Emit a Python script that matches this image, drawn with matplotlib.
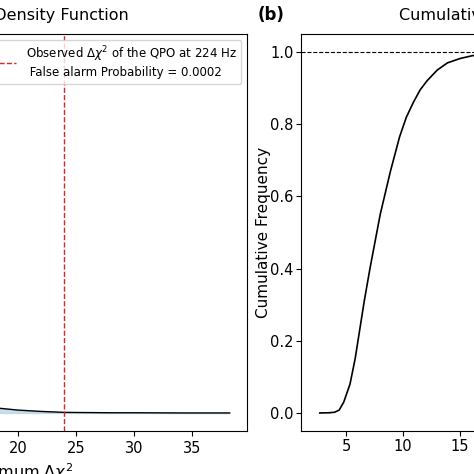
import matplotlib
matplotlib.use("Agg")
import matplotlib.pyplot as plt
import numpy as np

x_pdf = [2.7, 3.5, 4.2, 4.8, 5.35, 6.2, 7.1, 8.0, 8.9, 9.7, 10.9, 12.1, 13.9, 16.1, 17, 18, 20, 22, 24, 26, 28, 30, 34, 38.2]
pdf = [0.0, 0.003, 0.012, 0.06, 0.13, 0.18, 0.19, 0.17, 0.135, 0.105, 0.065, 0.038, 0.014, 0.005, 0.0037, 0.0027, 0.0015, 0.0008, 0.0003, 0.0002, 0.0001, 0.0001, 0.0, 0.0]
x_cdf = [2.7, 3.5, 4.0, 4.4, 4.8, 5.35, 5.8, 6.2, 6.6, 7.1, 8.0, 8.9, 9.7, 10.3, 10.9, 11.5, 12.1, 13.0, 13.9, 15.0, 16.1, 18, 20, 24, 30, 38.2]
cdf = [0.0, 0.0005, 0.002, 0.008, 0.03, 0.08, 0.15, 0.23, 0.31, 0.40, 0.55, 0.67, 0.765, 0.82, 0.86, 0.895, 0.92, 0.95, 0.97, 0.982, 0.99, 0.996, 0.998, 0.9995, 1.0, 1.0]
observed = 23.9

fig = plt.figure(figsize=(4.74, 4.74), dpi=100)
W = 474.0
bot = (474 - 431) / W
h = (431 - 34) / W
ax1 = fig.add_axes([-214 / W, bot, 461 / W, h])
ax2 = fig.add_axes([301 / W, bot, 461 / W, h])

ax1.plot(x_pdf, pdf, color='black', lw=1)
ax1.fill_between(x_pdf, pdf, color='#a6cbe3', alpha=0.6)
ax1.axvline(observed, color='#d62728', ls='--', lw=1,
            label='Observed $\\Delta\\chi^2$ of the QPO at 224 Hz\n False alarm Probability = 0.0002')
ax1.set_xlim(0, 39.7)
ax1.set_xticks([0, 5, 10, 15, 20, 25, 30, 35])
ax1.tick_params(labelsize=10.5)
ax1.set_xlabel('Maximum $\\Delta\\chi^2$', fontsize=11.5)
ax1.set_title('Probability Density Function', fontsize=11.5, pad=10)
ax1.legend(loc='upper right', fontsize=8.5, handlelength=2)

ax2.plot(x_cdf, cdf, color='black', lw=1.2)
ax2.axhline(1.0, color='black', ls='--', lw=0.8)
ax2.set_xlim(1.05, 41.5)
ax2.set_xticks([5, 10, 15, 20, 25, 30, 35, 40])
ax2.set_yticks([0, 0.2, 0.4, 0.6, 0.8, 1.0])
ax2.tick_params(labelsize=10.5, pad=2)
ax2.set_ylabel('Cumulative Frequency', fontsize=11, labelpad=-1)
ax2.set_xlabel('Maximum $\\Delta\\chi^2$', fontsize=11.5)
ax2.set_title('Cumulative Distribution Function', fontsize=11.5, pad=10)
fig.text(258 / W, 1 - 15 / W, '(b)', fontsize=12, fontweight='bold', va='center')

fig.savefig('out.png', dpi=100)
